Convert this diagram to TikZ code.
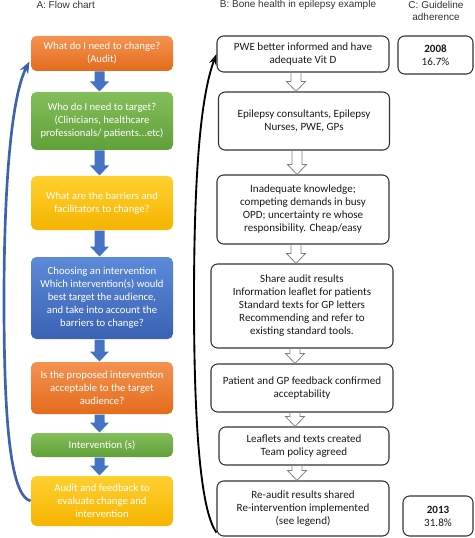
\documentclass[tikz,border=0pt]{standalone}
\usepackage{fontspec}
\setmainfont{Carlito}
\newfontfamily\titlefont{Liberation Sans}
\usetikzlibrary{arrows.meta,calc}

\definecolor{orangetop}{RGB}{244,146,80}
\definecolor{orangebot}{RGB}{228,108,28}
\definecolor{greentop}{RGB}{132,190,92}
\definecolor{greenbot}{RGB}{96,160,56}
\definecolor{yellowtop}{RGB}{255,208,48}
\definecolor{yellowbot}{RGB}{245,180,0}
\definecolor{bluetop}{RGB}{92,138,216}
\definecolor{bluebot}{RGB}{58,98,180}
\definecolor{arrowblue}{RGB}{68,114,196}
\definecolor{loopblue}{RGB}{62,98,176}

\tikzset{every picture/.style={line width=0.75pt}}
\tikzset{
  boxtext/.style={font=\fontsize{8}{9.75}\selectfont, align=center, inner sep=0pt},
  flowbox/.style={boxtext, text=white, rounded corners=4pt, minimum width=106.5pt},
  orangebox/.style={flowbox, top color=orangetop, bottom color=orangebot},
  greenbox/.style={flowbox, top color=greentop, bottom color=greenbot},
  yellowbox/.style={flowbox, top color=yellowtop, bottom color=yellowbot},
  bluebox/.style={flowbox, top color=bluetop, bottom color=bluebot},
  examplebox/.style={boxtext, font=\fontsize{8.3}{9.75}\selectfont, draw=black!80, line width=0.8pt, rounded corners=5pt, text=black!90},
  titletext/.style={font=\titlefont\fontsize{7.5}{9}\selectfont, text=black!80, align=center, inner sep=0pt},
  bluearrow/.style={fill=arrowblue},
  hollowarrow/.style={draw=black!50, fill=white, line width=0.6pt}
}

% block arrow from the bottom of #1 to the top of #2, shifted by #4
\newcommand{\blockarrow}[4]{%
  \coordinate (ba) at (#1.south);
  \coordinate (bb) at (#1.south |- #2.north);
  \path[#3] ($(ba)+(#4-5,0)$) -- ($(bb)+(#4-5,-10)$) -- ($(bb)+(#4-9.5,-10)$) -- ($(bb)+(#4,0)$) -- ($(bb)+(#4+9.5,-10)$) -- ($(bb)+(#4+5,-10)$) -- ($(ba)+(#4+5,0)$) -- cycle ;}

\begin{document}
\begin{tikzpicture}[x=0.75pt,y=0.75pt,yscale=-1,xscale=1]
	\useasboundingbox (0,0) rectangle (474,538);

	% Text Node
	\draw (36,5) node [titletext, anchor=west] (ttla) {A: Flow chart};
	% Text Node
	\draw (298,5) node [titletext] (ttlb) {B: Bone health in epilepsy example};
	% Text Node
	\draw (436,11) node [titletext] (ttlc) {C: Guideline\\[-0.5pt]adherence};

	%Shape: Flow chart boxes
	\draw (102,53.5) node [orangebox, minimum height=26.25pt] (a1) {What do I need to change?\\(Audit)};
	\draw (102,121) node [greenbox, minimum height=43.5pt] (a2) {Who do I need to target?\\(Clinicians, healthcare\\professionals/ patients...etc)};
	\draw (102,203) node [yellowbox, minimum height=40.5pt] (a3) {What are the barriers and\\facilitators to change?};
	\draw (102,298) node [bluebox, minimum height=61.5pt] (a4) {Choosing an intervention\\Which intervention(s) would\\best target the audience,\\and take into account the\\barriers to change?};
	\draw (102,388) node [orangebox, minimum height=39pt] (a5) {Is the proposed intervention\\acceptable to the target\\audience?};
	\draw (102,445) node [greenbox, minimum height=18pt] (a6) {Intervention (s)};
	\draw (102,501) node [yellowbox, minimum height=37.5pt] (a7) {Audit and feedback to\\evaluate change and\\intervention};

	%Shape: Example boxes
	\draw (303,54) node [examplebox, minimum width=129pt, minimum height=27pt] (b1) {PWE better informed and have\\adequate Vit D};
	\draw (304,121) node [examplebox, minimum width=128.25pt, minimum height=43.5pt] (b2) {Epilepsy consultants, Epilepsy\\Nurses, PWE, GPs};
	\draw (303,209.5) node [examplebox, minimum width=129pt, minimum height=51.75pt] (b3) {Inadequate knowledge;\\competing demands in busy\\OPD; uncertainty re whose\\responsibility. Cheap/easy};
	\draw (302,306) node [examplebox, minimum width=136.5pt, minimum height=63pt] (b4) {Share audit results\\Information leaflet for patients\\Standard texts for GP letters\\Recommending and refer to\\existing standard tools.};
	\draw (302,388) node [examplebox, minimum width=136.5pt, minimum height=36pt] (b5) {Patient and GP feedback confirmed\\acceptability};
	\draw (304,446) node [examplebox, minimum width=127.5pt, minimum height=28.5pt] (b6) {Leaflets and texts created\\Team policy agreed};
	\draw (303,508.5) node [examplebox, minimum width=129pt, minimum height=41.25pt] (b7) {Re-audit results shared\\Re-intervention implemented\\(see legend)};

	%Shape: Adherence boxes
	\draw (435.5,55) node [examplebox, minimum width=56.25pt, minimum height=28.5pt] (c1) {\textbf{2008}\\16.7\%};
	\draw (438,516) node [examplebox, minimum width=52.5pt, minimum height=30pt] (c2) {\textbf{2013}\\31.8\%};

	%Block arrows
	\blockarrow{a1}{a2}{bluearrow}{-2.5}
	\blockarrow{a2}{a3}{bluearrow}{-2.5}
	\blockarrow{a3}{a4}{bluearrow}{-2.5}
	\blockarrow{a4}{a5}{bluearrow}{-2.5}
	\blockarrow{a5}{a6}{bluearrow}{-2.5}
	\blockarrow{a6}{a7}{bluearrow}{-2.5}

	%Hollow arrows
	\blockarrow{b1}{b2}{hollowarrow}{-7}
	\blockarrow{b2}{b3}{hollowarrow}{-7}
	\blockarrow{b3}{b4}{hollowarrow}{-7}
	\blockarrow{b4}{b5}{hollowarrow}{-7}
	\blockarrow{b5}{b6}{hollowarrow}{-7}
	\blockarrow{b6}{b7}{hollowarrow}{-7}

	%Curve Lines
	\draw [loopblue, line width=2pt, -{Stealth[length=9pt,width=7pt]}] (a7.west) .. controls (10,495) and (4,420) .. (4,300) .. controls (4,180) and (12,95) .. ($(a1.west)+(-1,8)$) ;
	%Curve Lines
	\draw [black, line width=1.4pt, -{Stealth[length=8pt,width=5.5pt]}] ($(b7.south west)+(0,-4)$) .. controls (200,510) and (194,420) .. (194,300) .. controls (194,170) and (201,95) .. (b1.west) ;

\end{tikzpicture}
\end{document}
